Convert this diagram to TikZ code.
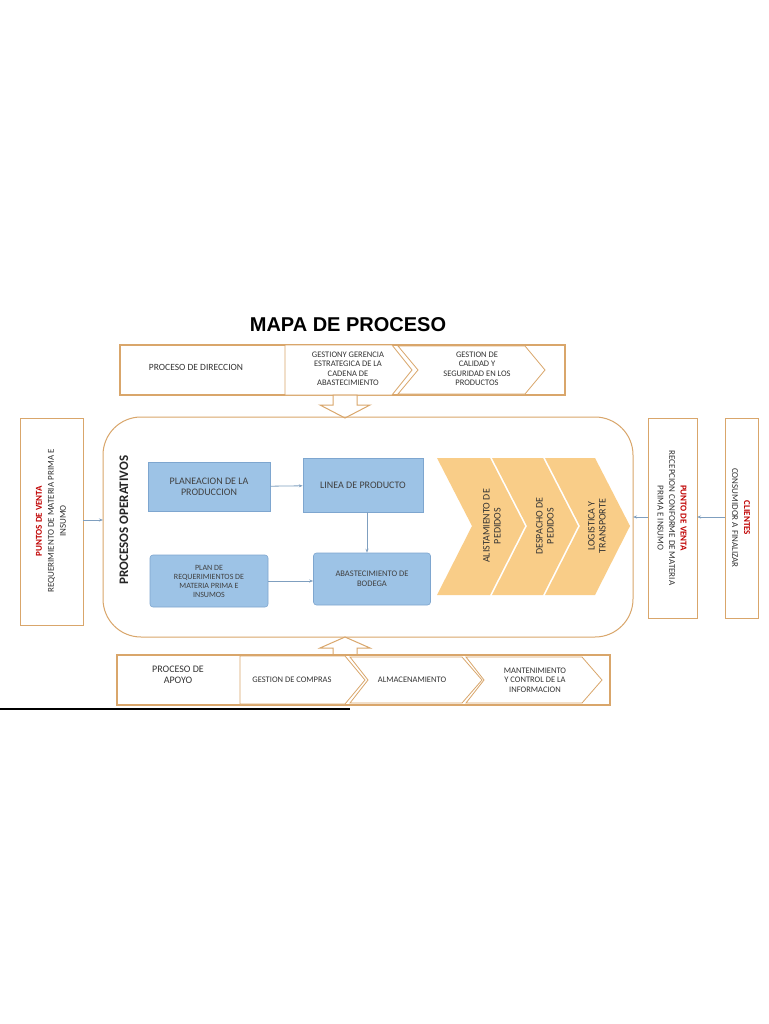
\documentclass[tikz,border=0pt]{standalone}
\usepackage{fontspec}
\setmainfont{Carlito}
\newfontfamily\titlefont{Liberation Sans}
\usetikzlibrary{arrows.meta}
\definecolor{ob}{HTML}{D9A66B}
\definecolor{bfill}{HTML}{9DC3E6}
\definecolor{bdraw}{HTML}{7EA6CF}
\definecolor{yfill}{HTML}{F9CD88}
\definecolor{tred}{HTML}{C00000}
\definecolor{ar}{HTML}{7F9FBF}
\tikzset{
  bar/.style={draw=ob,line width=1.2pt,fill=white},
  chev/.style={draw=ob,line width=0.8pt,fill=white},
  ychev/.style={fill=yfill,draw=none},
  bbox/.style={draw=bdraw,fill=bfill,rounded corners=3pt,line width=0.6pt,align=center,font=\fontsize{10}{11}\selectfont,text=black!75},
  txt/.style={align=center,font=\fontsize{8.5}{9.5}\selectfont,text=black!80},
  conn/.style={draw=ar,line width=0.8pt,-{Stealth[length=4pt]}},
  blk/.style={draw=ob,line width=1pt,fill=white}
}
\begin{document}
\begin{tikzpicture}[x=1pt,y=-1pt]
\useasboundingbox (0,0) rectangle (768,1024);
\fill[white] (0,0) rectangle (768,1024);
\node[font=\titlefont\bfseries\fontsize{20}{24}\selectfont] (title) at (348,325) {MAPA DE PROCESO};
% top bar
\draw[bar] (120,345) rectangle (565,395);
\node[txt,font=\fontsize{9.5}{11}\selectfont] (pdir) at (196,367) {PROCESO DE DIRECCION};
\draw[chev] (285,345) -- (392,345) -- (412,370) -- (392,395) -- (285,395) -- cycle;
\draw[chev] (398,346) -- (525,346) -- (545,370) -- (525,394) -- (398,394) -- (418,370) -- cycle;
\node[txt] (g1) at (348,369) {GESTIONY GERENCIA\\ESTRATEGICA DE LA\\CADENA DE\\ABASTECIMIENTO};
\node[txt] (g2) at (477,369) {GESTION DE\\CALIDAD Y\\SEGURIDAD EN LOS\\PRODUCTOS};
% down arrow
\draw[blk] (333,395) -- (357,395) -- (357,405) -- (370,405) -- (345,418) -- (320,405) -- (333,405) -- cycle;
% main rect
\draw[draw=ob,line width=1pt,rounded corners=38pt] (103,417) rectangle (633,637);
\node[rotate=90,font=\bfseries\fontsize{13}{14}\selectfont,text=black!85] (po) at (124,520) {PROCESOS OPERATIVOS};
% blue boxes
\node[bbox,minimum width=122pt,minimum height=49pt,rounded corners=0pt] (plan) at (209,487) {PLANEACION DE LA\\PRODUCCION};
\node[bbox,minimum width=120pt,minimum height=54pt,rounded corners=0pt] (linea) at (363,485) {LINEA DE PRODUCTO};
\node[bbox,minimum width=118pt,minimum height=52pt,font=\fontsize{8}{9}\selectfont] (req) at (209,581) {PLAN DE\\REQUERIMIENTOS DE\\MATERIA PRIMA E\\INSUMOS};
\node[bbox,minimum width=117pt,minimum height=52pt,font=\fontsize{8.5}{9.5}\selectfont] (abas) at (372,579) {ABASTECIMIENTO DE\\BODEGA};
\draw[conn] (plan) -- (linea);
\draw[conn] (linea.south -| 367,0) -- (abas.north -| 367,0);
\draw[conn] (req) -- (req -| abas.west);
% yellow chevrons
\fill[ychev] (437,458) -- (490,458) -- (525,526) -- (490,595) -- (437,595) -- (472,526) -- cycle;
\fill[ychev] (492,458) -- (543,458) -- (578,526) -- (543,595) -- (492,595) -- (527,526) -- cycle;
\fill[ychev] (545,458) -- (595,458) -- (630,526) -- (595,595) -- (545,595) -- (580,526) -- cycle;
\node[txt,rotate=90,font=\fontsize{10}{11}\selectfont] (y1) at (492,526) {ALISTAMIENTO DE\\PEDIDOS};
\node[txt,rotate=90,font=\fontsize{10}{11}\selectfont] (y2) at (545,526) {DESPACHO DE\\PEDIDOS};
\node[txt,rotate=90,font=\fontsize{10}{11}\selectfont] (y3) at (597,526) {LOGISTICA Y\\TRANSPORTE};
% left box
\draw[draw=ob,line width=1pt] (20,418) rectangle (83,625);
\node[rotate=90,align=center,font=\fontsize{9}{12}\selectfont,text=black!80] (lt) at (51,521) {{\color{tred}\bfseries PUNTOS DE VENTA}\\REQUERIMIENTO DE MATERIA PRIMA E\\INSUMO};
\coordinate (lb) at (83,520);
\coordinate (mL) at (103,520);
\draw[conn] (lb) -- (mL);
% right boxes
\draw[draw=ob,line width=1pt] (648,418) rectangle (697,618);
\node[rotate=-90,align=center,font=\fontsize{9}{11.5}\selectfont,text=black!80] (rt1) at (672,518) {{\color{tred}\bfseries PUNTO DE VENTA}\\RECEPCION CONFORME DE MATERIA\\PRIMA E INSUMO};
\draw[draw=ob,line width=1pt] (725,418) rectangle (758,618);
\node[rotate=-90,align=center,font=\fontsize{9}{12}\selectfont,text=black!80] (rt2) at (741,518) {{\color{tred}\bfseries CLIENTES}\\CONSUMIDOR A FINALIZAR};
\coordinate (r2) at (725,517);
\coordinate (r1r) at (697,517);
\coordinate (r1l) at (648,517);
\coordinate (mR) at (633,517);
\draw[conn] (r2) -- (r1r);
\draw[conn] (r1l) -- (mR);
% up arrow
\draw[blk] (333,655) -- (357,655) -- (357,648) -- (370,648) -- (345,637) -- (320,648) -- (333,648) -- cycle;
% bottom bar
\draw[bar] (117,655) rectangle (610,705);
\node[txt,font=\fontsize{10}{11.5}\selectfont] (pap) at (178,675) {PROCESO DE\\APOYO};
\draw[chev] (240,656) -- (345,656) -- (365,680) -- (345,704) -- (240,704) -- cycle;
\draw[chev] (350,657) -- (462,657) -- (482,680) -- (462,703) -- (350,703) -- (368,680) -- cycle;
\draw[chev] (466,657) -- (582,657) -- (602,680) -- (582,703) -- (466,703) -- (484,680) -- cycle;
\node[txt] (b1) at (292,680) {GESTION DE COMPRAS};
\node[txt] (b2) at (412,680) {ALMACENAMIENTO};
\node[txt] (b3) at (535,680) {MANTENIMIENTO\\Y CONTROL DE LA\\INFORMACION};
\draw[black,line width=1.2pt] (0,709) -- (350,709);
\end{tikzpicture}
\end{document}
